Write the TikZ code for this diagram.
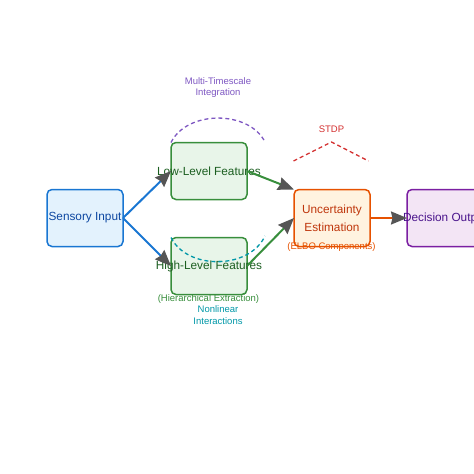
\documentclass[tikz,border=0pt]{standalone}
\usepackage{fontspec}
\setmainfont{Liberation Sans}
\usetikzlibrary{positioning,arrows.meta}
\definecolor{inblue}{HTML}{1976D2}
\definecolor{inbluefill}{HTML}{E3F2FD}
\definecolor{inbluetext}{HTML}{0D47A1}
\definecolor{featgreen}{HTML}{388E3C}
\definecolor{featfill}{HTML}{E8F5E9}
\definecolor{feattext}{HTML}{1B5E20}
\definecolor{uncorange}{HTML}{E65100}
\definecolor{uncfill}{HTML}{FFF3E0}
\definecolor{unctext}{HTML}{BF360C}
\definecolor{decpurple}{HTML}{7B1FA2}
\definecolor{decfill}{HTML}{F3E5F5}
\definecolor{dectext}{HTML}{4A148C}
\definecolor{timepurple}{HTML}{7E57C2}
\definecolor{nlteal}{HTML}{0097A7}
\definecolor{stdpred}{HTML}{D32F2F}
\definecolor{headgray}{HTML}{555555}
\tikzset{
  box/.style={draw, rounded corners=5pt, line width=1.5pt, minimum width=76pt,
    minimum height=57pt, inner sep=0pt, outer sep=0pt},
  boxtext/.style={font=\fontsize{11.8}{18}\selectfont},
  note/.style={font=\fontsize{9.5}{11.5}\selectfont, align=center},
  flow/.style={-{Stealth[length=16pt, width=13pt, inset=1.5pt, color=headgray]},
    line width=2pt},
  arcline/.style={line width=1.3pt, dash pattern=on 4pt off 3pt},
}

\begin{document}
\begin{tikzpicture}[x=1pt, y=-1pt, node distance=48pt]
    \clip (0,0) rectangle (474,474);
    \node[box, draw=inblue, fill=inbluefill,
      label={[boxtext, text=inbluetext]center:Sensory Input}] (sens) at (85,218) {};
    \node[box, draw=featgreen, fill=featfill,
      label={[boxtext, text=feattext]center:Low-Level Features}]
      (low) [right=of sens, yshift=47pt] {};
    \node[box, draw=featgreen, fill=featfill,
      label={[boxtext, text=feattext]center:High-Level Features}]
      (high) [right=of sens, yshift=-48pt] {};
    \node[box, draw=uncorange, fill=uncfill, boxtext, text=unctext, align=center]
      (unc) [right=171pt of sens] {Uncertainty\\Estimation};
    \node[box, draw=decpurple, fill=decfill,
      label={[boxtext, text=dectext]center:Decision Output}]
      (dec) [right=37pt of unc] {};

    % side notes
    \node[note, text=featgreen] (hier) at (208.5,299) {(Hierarchical Extraction)};
    \node[note, text=uncorange] (elbo) at (331.5,247) {(ELBO Components)};
    \node[note, text=timepurple] (mts) at (218,87.5) {Multi-Timescale\\Integration};
    \node[note, text=nlteal] (nonlin) at (218,315) {Nonlinear\\Interactions};
    \node[note, text=stdpred] (stdp) at (331.5,129) {STDP};

    \coordinate (mtsend) at (265,142);
    \coordinate (nlend) at (265,236);
    \coordinate (stdpa) at (293.5,161);
    \coordinate (stdpb) at (331.5,142);
    \coordinate (stdpc) at (368.5,161);

    % main flow
    \draw[flow, color=inblue] (sens.east) -- (low.west);
    \draw[flow, color=inblue] (sens.east) -- (high.west);
    \draw[flow, color=featgreen] (low.east) -- (unc.north west);
    \draw[flow, color=featgreen] (high.east) -- (unc.west);
    \draw[flow, color=uncorange] (unc.east) -- (dec.west);

    % dashed links
    \draw[arcline, draw=timepurple] (low.north west) .. controls (187,110) and (249,110) .. (mtsend);
    \draw[arcline, draw=nlteal] (high.north west) .. controls (187,270) and (249,270) .. (nlend);
    \draw[arcline, draw=stdpred] (stdpa) -- (stdpb) -- (stdpc);
\end{tikzpicture}
\end{document}
